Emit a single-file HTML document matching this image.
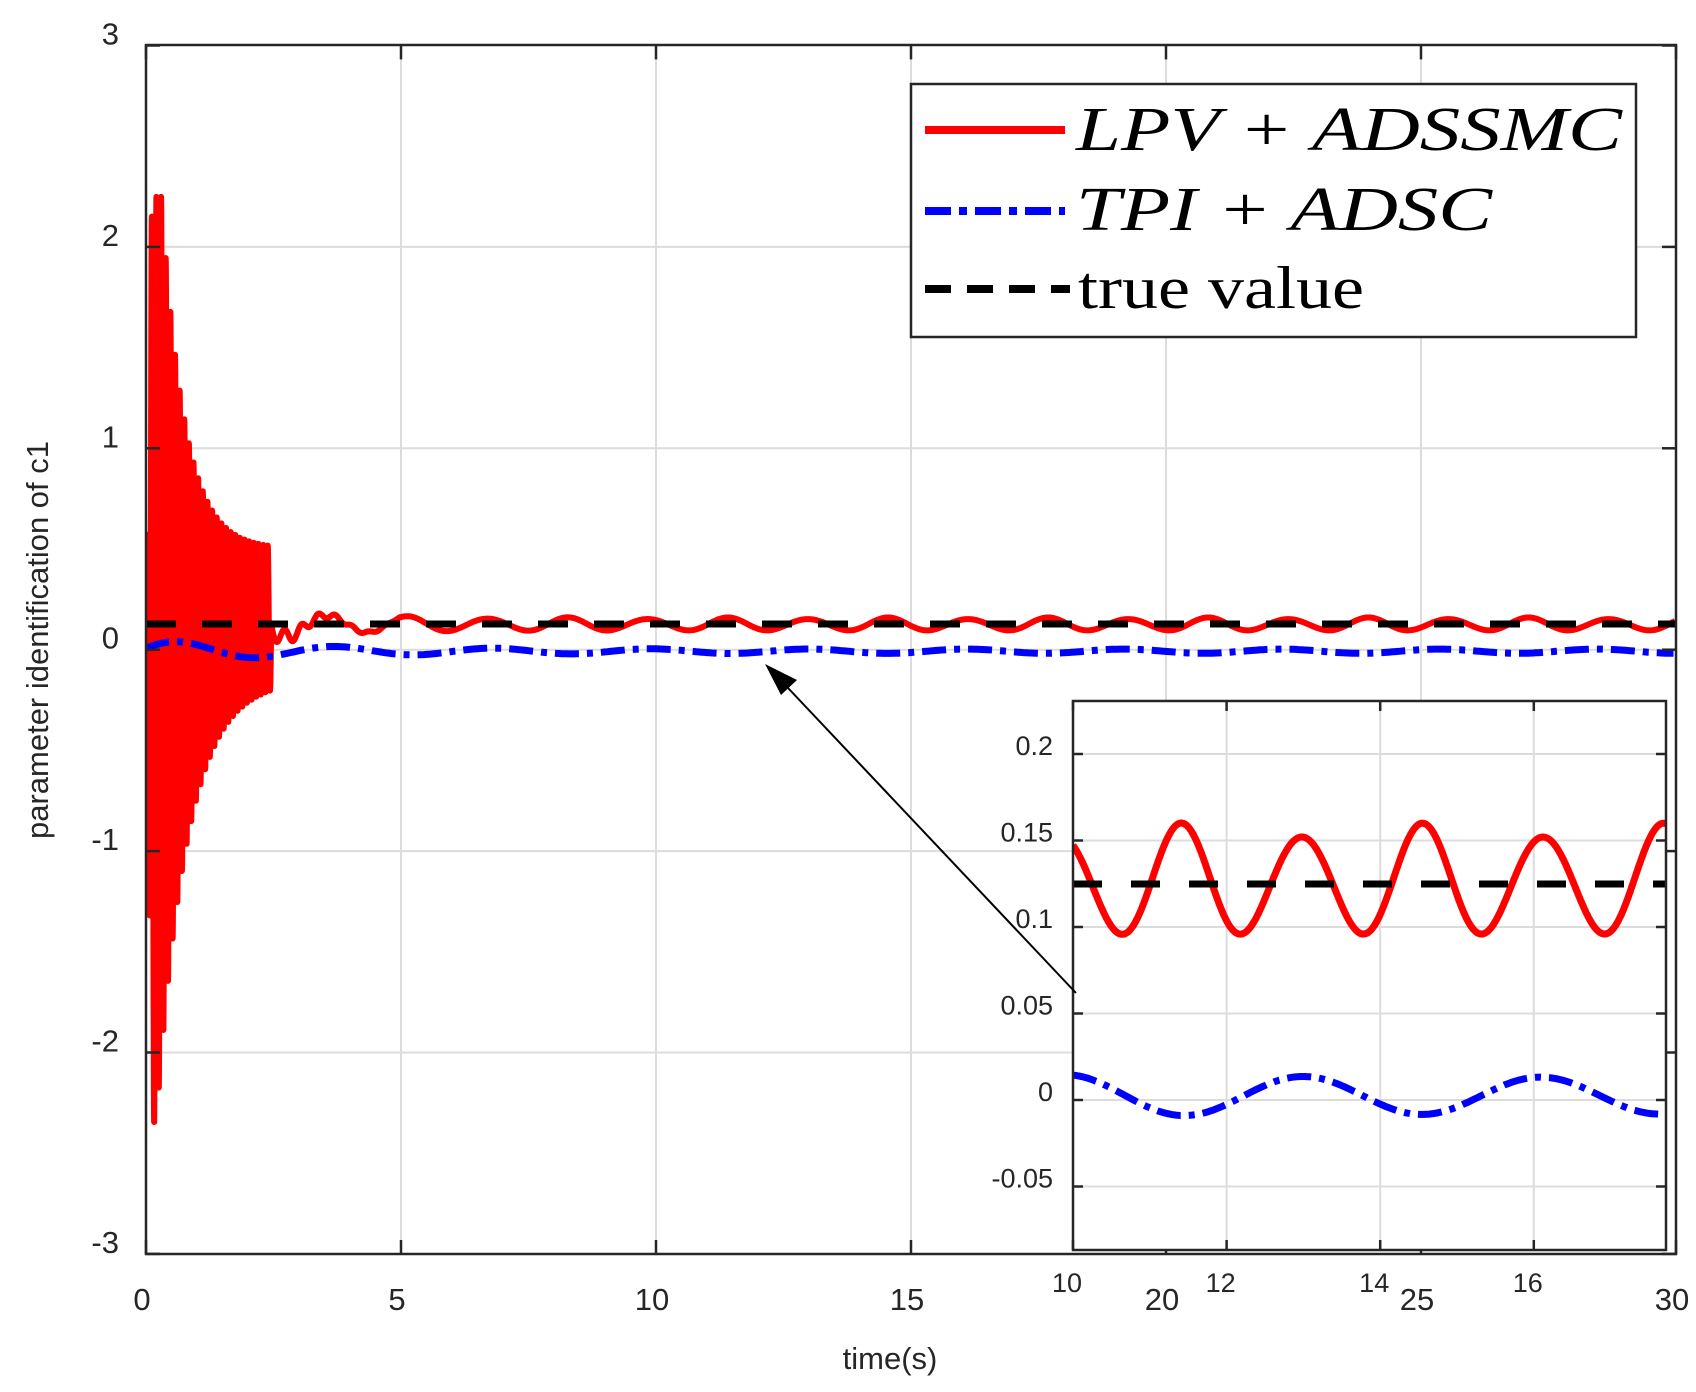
<!DOCTYPE html>
<html><head><meta charset="utf-8"><style>
html,body{margin:0;padding:0;background:#fff;}
svg{display:block;}
text{font-family:"Liberation Sans",sans-serif;fill:#262626;}
</style></head><body>
<svg id="s" width="1696" height="1392" xmlns="http://www.w3.org/2000/svg">
<rect width="1696" height="1392" fill="#fff"/>
<g id="maingrid" stroke="#dcdcdc" stroke-width="2"></g>
<defs>
<clipPath id="cm"><rect x="146" y="45" width="1530" height="1209"/></clipPath>
<clipPath id="ci"><rect x="1073" y="701" width="593" height="549"/></clipPath>
</defs>
<g clip-path="url(#cm)">
<path id="mr" fill="none" stroke="#ff0000" stroke-width="6" stroke-linejoin="round"/>
<path id="mb" fill="none" stroke="#0000ff" stroke-width="7" stroke-dasharray="24,8,6,8"/>
<line x1="146" x2="1676" y1="624" y2="624" stroke="#000" stroke-width="7" stroke-dasharray="30,26"/>
</g>
<rect x="146" y="45" width="1530" height="1209" fill="none" stroke="#262626" stroke-width="2.5"/>
<g id="mainticks" stroke="#262626" stroke-width="2.5"></g>
<g id="mainlabels" font-size="31"></g>
<text x="890" y="1369" font-size="31" text-anchor="middle">time(s)</text>
<text transform="translate(48,640) rotate(-90)" font-size="31" text-anchor="middle">parameter identification of c1</text>
<!-- legend -->
<rect x="911" y="84" width="725" height="253" fill="#fff" stroke="#262626" stroke-width="2.5"/>
<line x1="925" x2="1065" y1="130" y2="130" stroke="#ff0000" stroke-width="8"/>
<line x1="925" x2="1065" y1="211" y2="211" stroke="#0000ff" stroke-width="8" stroke-dasharray="26,8,8,8"/>
<line x1="925" x2="1070" y1="289" y2="289" stroke="#000" stroke-width="8" stroke-dasharray="26,16"/>
<text x="1076" y="150" font-size="62" style="font-family:'Liberation Serif',serif;font-style:italic;fill:#000" textLength="546" lengthAdjust="spacingAndGlyphs">LPV + ADSSMC</text>
<text x="1076" y="230" font-size="62" style="font-family:'Liberation Serif',serif;font-style:italic;fill:#000" textLength="416" lengthAdjust="spacingAndGlyphs">TPI + ADSC</text>
<text x="1078" y="308" font-size="60" style="font-family:'Liberation Serif',serif;fill:#000" textLength="286" lengthAdjust="spacingAndGlyphs">true value</text>
<!-- inset -->
<rect x="1073" y="701" width="593" height="549" fill="#fff"/>
<g id="insetgrid" stroke="#dcdcdc" stroke-width="2"></g>
<g clip-path="url(#ci)">
<path id="ir" fill="none" stroke="#ff0000" stroke-width="7" stroke-linejoin="round"/>
<path id="ib" fill="none" stroke="#0000ff" stroke-width="7" stroke-dasharray="24,8,6,8"/>
<line x1="1073" x2="1666" y1="884" y2="884" stroke="#000" stroke-width="7" stroke-dasharray="29,29"/>
</g>
<rect x="1073" y="701" width="593" height="549" fill="none" stroke="#262626" stroke-width="2.5"/>
<g id="insetticks" stroke="#262626" stroke-width="2.5"></g>
<g id="insetlabels" font-size="27"></g>
<!-- arrow -->
<line x1="1076" y1="993" x2="772" y2="671" stroke="#000" stroke-width="2"/>
<polygon points="765,664 797,680 781,695" fill="#000"/>
</svg>
<script>
var NS="http://www.w3.org/2000/svg";
function el(p,tag,a,txt){var e=document.createElementNS(NS,tag);for(var k in a)e.setAttribute(k,a[k]);if(txt!==undefined)e.textContent=txt;document.getElementById(p).appendChild(e);}
var L=146,R=1676,T=45.4,B=1254;
function X(t){return L+(R-L)*t/30;}
function Y(v){return 649.7-201.4*v;}
var iL=1073,iR=1666,iT=701,iB=1250;
function IX(t){return iL+(t-10)*76.8;}
function IY(v){return 1100-v*1730;}
for(var t=5;t<30;t+=5){el("maingrid","line",{x1:X(t),x2:X(t),y1:T,y2:B});}
for(var v=-2;v<=2;v++){el("maingrid","line",{x1:L,x2:R,y1:Y(v),y2:Y(v)});}
for(var t=0;t<=30;t+=5){el("mainticks","line",{x1:X(t),x2:X(t),y1:B,y2:B-14});el("mainticks","line",{x1:X(t),x2:X(t),y1:T,y2:T+14});
 el("mainlabels","text",{x:X(t)-4,y:1310,"text-anchor":"middle"},String(t));}
for(var v=-3;v<=3;v++){el("mainticks","line",{x1:L,x2:L+14,y1:Y(v),y2:Y(v)});el("mainticks","line",{x1:R,x2:R-14,y1:Y(v),y2:Y(v)});
 el("mainlabels","text",{x:119,y:Y(v)-1,"text-anchor":"end"},String(v));}
[12,14,16].forEach(function(t){el("insetgrid","line",{x1:IX(t),x2:IX(t),y1:iT,y2:iB});});
[0.2,0.15,0.1,0.05,0,-0.05].forEach(function(v){el("insetgrid","line",{x1:iL,x2:iR,y1:IY(v),y2:IY(v)});
 el("insetticks","line",{x1:iL,x2:iL+10,y1:IY(v),y2:IY(v)});el("insetticks","line",{x1:iR,x2:iR-10,y1:IY(v),y2:IY(v)});
 el("insetlabels","text",{x:1053,y:IY(v)+1,"text-anchor":"end"},String(v));});
[10,12,14,16].forEach(function(t){el("insetticks","line",{x1:IX(t),x2:IX(t),y1:iB,y2:iB-10});el("insetticks","line",{x1:IX(t),x2:IX(t),y1:iT,y2:iT+10});
 el("insetlabels","text",{x:IX(t)-6,y:1292,"text-anchor":"middle"},String(t));});
function blue(t){var A=0.0105+0.045*Math.exp(-t/3);return 0.0025+A*Math.cos(2*Math.PI*(t-13.0)/3.09);}
function redSlow(t){var ph=2*Math.PI*(t-11.41)/1.57;var A=0.03+0.004*Math.cos(ph/2)+0.04*Math.exp(-(t-2.4)/1.5);
 return 0.126+A*Math.cos(ph);}
function red(t){
 if(t<2.45){var s=Math.sin(2*Math.PI*11*t);var ramp=Math.min(1,t/0.12);
  var Ep=1.75*Math.exp(-Math.max(0,t-0.3)/0.45)+0.4, En=2.2*Math.exp(-Math.max(0,t-0.2)/0.6)+0.25;
  return 0.1+ramp*(s>0?Ep*s:En*s);}
 var v=redSlow(t);
 if(t<5){v+=0.05*Math.exp(-(t-2.45)/0.9)*Math.sin(2*Math.PI*t/0.33);}
 return v;}
var d="";for(var t=0;t<=30;t+=(t<2.5?0.002:0.02)){d+=(d?"L":"M")+X(t).toFixed(1)+","+Y(red(t)).toFixed(1);}
document.getElementById("mr").setAttribute("d",d);
d="";for(var t=0;t<=30;t+=0.05){d+=(d?"L":"M")+X(t).toFixed(1)+","+Y(blue(t)-0.01).toFixed(1);}
document.getElementById("mb").setAttribute("d",d);
d="";for(var t=10;t<=17.8;t+=0.01){d+=(d?"L":"M")+IX(t).toFixed(1)+","+IY(redSlow(t)).toFixed(1);}
document.getElementById("ir").setAttribute("d",d);
d="";for(var t=10;t<=17.8;t+=0.02){d+=(d?"L":"M")+IX(t).toFixed(1)+","+IY(blue(t)).toFixed(1);}
document.getElementById("ib").setAttribute("d",d);
</script>
</body></html>
